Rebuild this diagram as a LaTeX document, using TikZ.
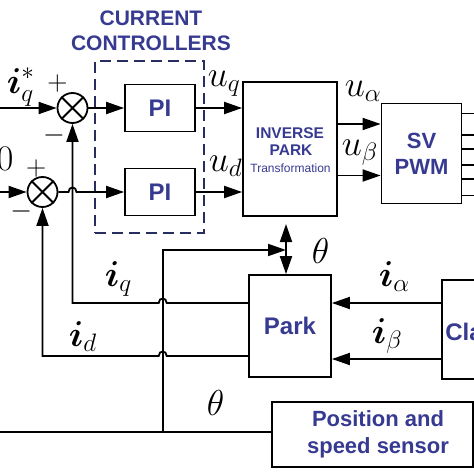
\RequirePackage{fix-cm}
\documentclass[tikz,border=0pt]{standalone}
\usepackage{amsmath}
\usepackage{bm}
\usepackage{fontspec}
\newfontfamily\lsans{Liberation Sans}
\usetikzlibrary{arrows.meta}
\definecolor{tblue}{RGB}{55,58,145}
\definecolor{dnavy}{RGB}{40,45,95}
\begin{document}
\begin{tikzpicture}[x=1pt,y=-1pt,line width=1.8pt,
  arr/.style={-{Triangle[length=18pt,width=12pt]}},
  blk/.style={draw,rectangle,inner sep=0pt,line width=1.8pt},
  sumc/.style={draw,circle,minimum size=30pt,inner sep=0pt,line width=1.8pt},
  btxt/.style={text=tblue,font=\lsans\bfseries\fontsize{24}{26}\selectfont,inner sep=0pt},
  mlab/.style={font=\fontsize{36}{40}\selectfont,inner sep=0pt},
  sgn/.style={font=\fontsize{28}{30}\selectfont,inner sep=0pt}]
\useasboundingbox (0,0) rectangle (474,474);
\clip (0,0) rectangle (474,474);
% dashed controller frame
\node[draw=dnavy,dash pattern=on 11pt off 6pt,line width=1.6pt,minimum width=109pt,minimum height=172pt,inner sep=0pt] (cc) at (149.5,147) {};
\node[text=tblue,font=\lsans\bfseries\fontsize{21}{25}\selectfont,align=center,inner sep=0pt] (cct) at (151,30.5) {CURRENT\\CONTROLLERS};
% blocks
\node[blk,minimum width=70pt,minimum height=47pt,btxt] (pi1) at (160,108) {PI};
\node[blk,minimum width=70pt,minimum height=47pt,btxt] (pi2) at (160,192) {PI};
\node[blk,minimum width=94pt,minimum height=134pt] (ip) at (290,149) {};
\node[text=tblue,font=\lsans\bfseries\fontsize{15.5}{17}\selectfont,inner sep=0pt] (ipt1) at (290,133) {INVERSE};
\node[text=tblue,font=\lsans\bfseries\fontsize{15.5}{17}\selectfont,inner sep=0pt] (ipt2) at (291,150) {PARK};
\node[text=tblue,font=\lsans\fontsize{12}{14}\selectfont,inner sep=0pt] (ipt3) at (290.5,168) {Transformation};
\node[blk,minimum width=80pt,minimum height=100pt,align=center,text=tblue,font=\lsans\bfseries\fontsize{22}{26}\selectfont] (sv) at (421.5,153.5) {SV\\PWM};
\node[blk,minimum width=82pt,minimum height=102pt,btxt] (park) at (290,326) {Park};
\node[blk,minimum width=70pt,minimum height=99pt] (cl) at (477,329.5) {};
\node[btxt,anchor=west] (clt) at (444.5,332) {Clarke};
\node[blk,minimum width=201pt,minimum height=65pt] (ps) at (372.5,434.5) {};
\node[text=tblue,font=\lsans\bfseries\fontsize{22}{27.5}\selectfont,align=center,inner sep=0pt] (pst) at (378,434.5) {Position and\\speed sensor};
% summing junctions
\node[sumc] (s1) at (72.5,108) {};
\draw (s1.north east) -- (s1.south west) (s1.north west) -- (s1.south east);
\node[sumc] (s2) at (42.5,192) {};
\draw (s2.north east) -- (s2.south west) (s2.north west) -- (s2.south east);
\node[sgn] (p1) at (57.5,83) {$+$};
\node[sgn] (m1) at (54,135) {$-$};
\node[sgn] (p2) at (36.3,168) {$+$};
\node[sgn] (m2) at (21.3,211.5) {$-$};
% inputs
\coordinate (inq) at (0,108);
\coordinate (ind) at (0,192);
\draw[arr] (inq) -- (s1.west);
\draw[arr] (ind) -- (s2.west);
\draw[arr] (s1.east) -- (pi1.west);
\draw[arr] (s2.east) -- (68.5,192) .. controls (68.5,186) and (76.5,186) .. (76.5,192) -- (pi2.west);
\draw[arr] (pi1.east) -- (pi1.east -| ip.west);
\draw[arr] (pi2.east) -- (pi2.east -| ip.west);
\coordinate (ya) at (0,124);
\coordinate (yb) at (0,175.5);
\draw[arr] (ip.east |- ya) -- (sv.west |- ya);
\draw[arr] (ip.east |- yb) -- (sv.west |- yb);
\foreach \yy in {113.5,135,149,165,179,195.5}{
  \path (0,\yy) coordinate (tmp);
  \draw (sv.east |- tmp) -- ++(20,0);
}
% alpha beta currents
\coordinate (yal) at (0,303);
\coordinate (ybe) at (0,359);
\draw[arr] (cl.west |- yal) -- (park.east |- yal);
\draw[arr] (cl.west |- ybe) -- (park.east |- ybe);
% feedback iq, id
\coordinate (yq) at (0,303);
\coordinate (yd) at (0,356);
\draw[arr] (park.west |- yq) -- (166.7,303) .. controls (166.7,297) and (158.7,297) .. (158.7,303) -- (72.5,303) -- (s1.south);
\draw[arr] (park.west |- yd) -- (166.7,356) .. controls (166.7,350) and (158.7,350) .. (158.7,356) -- (42.5,356) -- (s2.south);
% theta
\coordinate (bl) at (0,432);
\coordinate (tj) at (162.7,432);
\coordinate (tc) at (162.7,250);
\coordinate (dj) at (286,250);
\coordinate (du) at (286,224);
\draw (bl) -- (ps.west |- bl);
\draw[arr] (tj) -- (tc) -- (dj);
\draw[arr] (dj) -- (dj |- park.north);
\draw[arr] (dj) -- (du);
% labels
\node[mlab,anchor=base west] (l1) at (6,93) {$\bm{i}_q^*$};
\node[mlab,anchor=base west] (l0) at (-4,170) {$0$};
\node[mlab,anchor=base west] (l2) at (207,86.5) {$u_q$};
\node[mlab,anchor=base west] (l3) at (208,171) {$u_d$};
\node[mlab,anchor=base west] (l4) at (344,96.5) {$u_\alpha$};
\node[mlab,anchor=base west] (l5) at (341,155) {$u_\beta$};
\node[mlab,anchor=base west] (l6) at (311,263) {$\theta$};
\node[mlab,anchor=base west] (l7) at (206,415) {$\theta$};
\node[mlab,anchor=base west] (l8) at (104,286) {$\bm{i}_q$};
\node[mlab,anchor=base west] (l9) at (68,346.5) {$\bm{i}_d$};
\node[mlab,anchor=base west] (l10) at (378,286.5) {$\bm{i}_\alpha$};
\node[mlab,anchor=base west] (l11) at (371,343) {$\bm{i}_\beta$};
\end{tikzpicture}
\end{document}
